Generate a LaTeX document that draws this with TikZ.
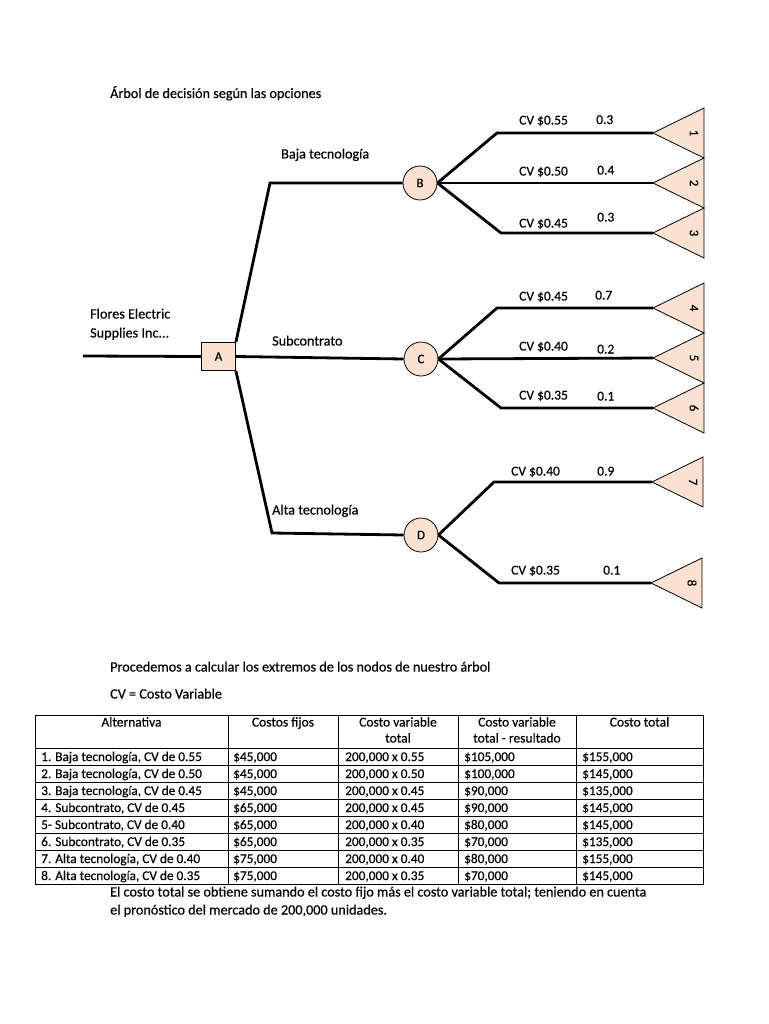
\documentclass[tikz,border=0pt]{standalone}
\usepackage{fontspec}
\setmainfont{Carlito}[FakeBold=0.4]
\definecolor{peach}{RGB}{251,226,208}
\begin{document}
\begin{tikzpicture}[x=1pt,y=-1pt,
  txt/.style={anchor=base west, inner sep=0, font=\fontsize{14.2}{17}\selectfont},
  ntxt/.style={anchor=base west, inner sep=0, font=\fontsize{13.5}{16}\selectfont},
  ttxt/.style={anchor=base west, inner sep=0, font=\fontsize{13.3}{16}\selectfont},
  ctxt/.style={anchor=base, inner sep=0, font=\fontsize{13.5}{16}\selectfont},
  branch/.style={line width=2.8pt, line join=miter},
  chance/.style={circle, draw, line width=0.8pt, fill=peach, minimum size=34, inner sep=0, font=\fontsize{13}{15}\selectfont},
  decision/.style={rectangle, draw, line width=0.8pt, fill=peach, minimum width=34, minimum height=28, inner sep=0, font=\fontsize{13}{15}\selectfont},
  leaf/.style={draw, line width=0.8pt, fill=peach},
  leafnum/.style={rotate=-90, inner sep=0, font=\fontsize{13}{15}\selectfont},
  grid/.style={line width=0.9pt},
]
\useasboundingbox[fill=white] (0,0) rectangle (768,1024);

\node[txt] (title) at (110,98) {Árbol de decisión según las opciones};

% nodes
\coordinate (root) at (83,356);
\node[decision] (A) at (218.5,356.5) {A};
\node[chance] (B) at (420,183) {B};
\node[chance] (C) at (421,359) {C};
\node[chance] (D) at (421,535) {D};

\node[txt] (flo1) at (90,318.5) {Flores Electric};
\node[txt] (flo2) at (90,337.5) {Supplies Inc...};
\node[txt] (lb) at (281,158.5) {Baja tecnología};
\node[txt] (lc) at (272,345.5) {Subcontrato};
\node[txt] (ld) at (272,514.5) {Alta tecnología};

\draw[branch] (root) -- (A.west);
\draw[branch] (A.north east) -- (270,183) -- (B.west);
\draw[branch] (A.east) -- (C.west);
\draw[branch] (A.south east) -- (272,533) -- (D.west);

% leaf apexes
\coordinate (t1) at (653,133);
\coordinate (t2) at (653,183);
\coordinate (t3) at (653,233);
\coordinate (t4) at (653,308);
\coordinate (t5) at (653,358);
\coordinate (t6) at (653,408);
\coordinate (t7) at (652,482);
\coordinate (t8) at (651,583);

\draw[branch] (B.east) -- (497,133) -- (t1);
\draw[branch] (B.east) -- (t2);
\draw[branch] (B.east) -- (501,233) -- (t3);
\draw[branch] (C.east) -- (497,308) -- (t4);
\draw[branch] (C.east) -- (t5);
\draw[branch] (C.east) -- (501,408) -- (t6);
\draw[branch] (D.east) -- (494,482) -- (t7);
\draw[branch] (D.east) -- (499,583) -- (t8);

\foreach \t/\n in {t1/1,t2/2,t3/3,t4/4,t5/5,t6/6,t7/7,t8/8}{
  \draw[leaf] (\t) -- ++(51,-25) -- ++(0,50) -- cycle;
  \node[leafnum] (n\n) at ([xshift=41]\t) {\n};
}

% branch labels
\node[ntxt] (cv1) at (519,124.5) {CV \$0.55};
\node[ntxt] (p1) at (596,124) {0.3};
\node[ntxt] (cv2) at (519,175.5) {CV \$0.50};
\node[ntxt] (p2) at (597,174.5) {0.4};
\node[ntxt] (cv3) at (519,227.5) {CV \$0.45};
\node[ntxt] (p3) at (597,221.5) {0.3};
\node[ntxt] (cv4) at (519,300.5) {CV \$0.45};
\node[ntxt] (p4) at (595,299.5) {0.7};
\node[ntxt] (cv5) at (519,350.5) {CV \$0.40};
\node[ntxt] (p5) at (597,353.5) {0.2};
\node[ntxt] (cv6) at (519,399.5) {CV \$0.35};
\node[ntxt] (p6) at (597,400.5) {0.1};
\node[ntxt] (cv7) at (511,475.5) {CV \$0.40};
\node[ntxt] (p7) at (597,475.5) {0.9};
\node[ntxt] (cv8) at (511,574.5) {CV \$0.35};
\node[ntxt] (p8) at (603,574.5) {0.1};

% text
\node[txt] (proc) at (110,671.5) {Procedemos a calcular los extremos de los nodos de nuestro árbol};
\node[txt] (cvdef) at (110,698.5) {CV = Costo Variable};

% table grid
\draw[grid] (35,715) rectangle (703,884);
\foreach \x in {228,338,458,576}{\draw[grid] (\x,715) -- (\x,884);}
\foreach \r in {0,...,7}{\draw[grid] (35,748+17*\r) -- (703,748+17*\r);}

% header
\node[ctxt] (h1) at (131.5,726.5) {Alternativa};
\node[ctxt] (h2) at (283,726.5) {Costos fijos};
\node[ctxt] (h3a) at (398,726.5) {Costo variable};
\node[ctxt] (h3b) at (398,742.5) {total};
\node[ctxt] (h4a) at (517,726.5) {Costo variable};
\node[ctxt] (h4b) at (517,742.5) {total - resultado};
\node[ctxt] (h5) at (639.5,726.5) {Costo total};

\foreach \n/\a/\b/\c/\d/\e in {
 1/{1. Baja tecnología, CV de 0.55}/{\$45,000}/{200,000 x 0.55}/{\$105,000}/{\$155,000},
 2/{2. Baja tecnología, CV de 0.50}/{\$45,000}/{200,000 x 0.50}/{\$100,000}/{\$145,000},
 3/{3. Baja tecnología, CV de 0.45}/{\$45,000}/{200,000 x 0.45}/{\$90,000}/{\$135,000},
 4/{4. Subcontrato, CV de 0.45}/{\$65,000}/{200,000 x 0.45}/{\$90,000}/{\$145,000},
 5/{5- Subcontrato, CV de 0.40}/{\$65,000}/{200,000 x 0.40}/{\$80,000}/{\$145,000},
 6/{6. Subcontrato, CV de 0.35}/{\$65,000}/{200,000 x 0.35}/{\$70,000}/{\$135,000},
 7/{7. Alta tecnología, CV de 0.40}/{\$75,000}/{200,000 x 0.40}/{\$80,000}/{\$155,000},
 8/{8. Alta tecnología, CV de 0.35}/{\$75,000}/{200,000 x 0.35}/{\$70,000}/{\$145,000}}{
  \node[ttxt] (r\n c1) at (41,748+17*\n-4) {\a};
  \node[ttxt] (r\n c2) at (233,748+17*\n-4) {\b};
  \node[ttxt] (r\n c3) at (345,748+17*\n-4) {\c};
  \node[ttxt] (r\n c4) at (464,748+17*\n-4) {\d};
  \node[ttxt] (r\n c5) at (582,748+17*\n-4) {\e};
}

\node[txt] (foot1) at (110,896.5) {El costo total se obtiene sumando el costo fijo más el costo variable total; teniendo en cuenta};
\node[txt] (foot2) at (110,914.5) {el pronóstico del mercado de 200,000 unidades.};
\end{tikzpicture}
\end{document}
